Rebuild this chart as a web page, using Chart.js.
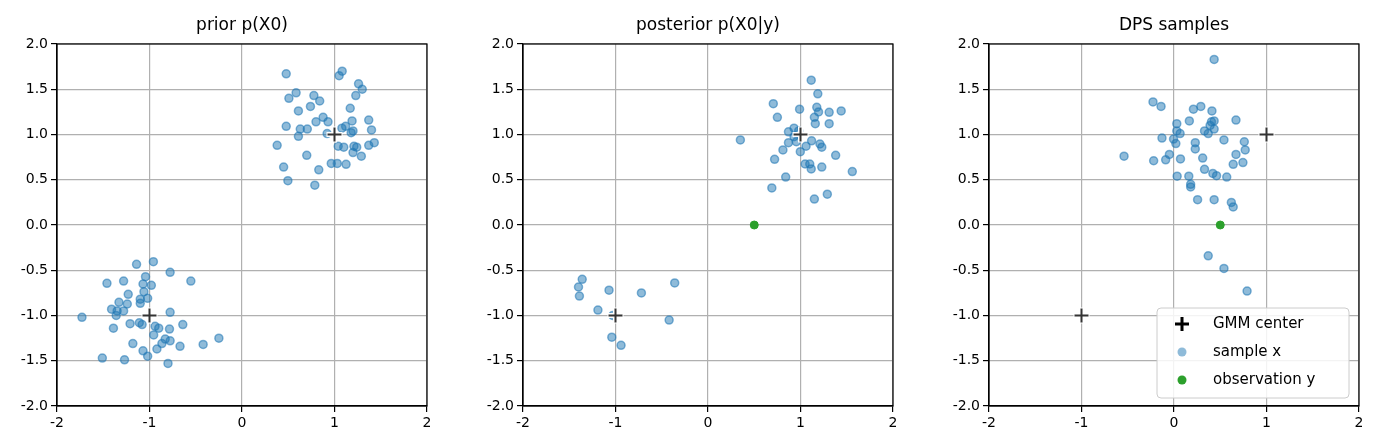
<!DOCTYPE html>
<html><head><meta charset="utf-8">
<script src="https://cdn.jsdelivr.net/npm/chart.js@4/dist/chart.umd.min.js"></script>
<style>body{margin:0;background:#fff;width:1380px;height:446px;position:relative;overflow:hidden}
.c{position:absolute;top:0;width:440px;height:446px}</style></head><body>
<div class="c" style="left:0"><canvas id="c1"></canvas></div>
<div class="c" style="left:466px"><canvas id="c2"></canvas></div>
<div class="c" style="left:932px"><canvas id="c3"></canvas></div>
<script>
const titles = ["prior p(X0)", "posterior p(X0|y)", "DPS samples"];
const xTicks = [-2, -1, 0, 1, 2];
const yTicks = [-2.0, -1.5, -1.0, -0.5, 0.0, 0.5, 1.0, 1.5, 2.0];
const centersX = [-1, 1];
const centersY = [-1, 1];
const obsX = [0.5];
const obsY = [0];
const priorX = [0.478,1.083,1.05,1.26,1.30,0.585,0.507,0.777,0.84,1.23,0.61,0.74,1.17,0.877,0.93,0.80,1.19,1.37,0.478,0.63,0.706,1.12,1.08,1.20,1.40,0.61,0.92,1.18,0.38,1.04,1.10,1.21,1.24,1.37,1.43,1.20,1.29,0.70,0.45,0.83,0.965,1.03,1.125,0.496,0.787,
 -1.14,-0.958,-0.777,-1.043,-1.46,-1.28,-0.553,-1.07,-0.98,-1.06,-1.23,-1.10,-1.02,-1.33,-1.24,-1.10,-1.41,-1.35,-1.28,-1.36,-1.73,-0.777,-1.21,-1.11,-1.08,-0.94,-0.90,-0.784,-0.64,-1.39,-0.955,-0.83,-0.777,-0.866,-1.18,-0.67,-0.42,-0.25,-0.92,-1.07,-1.02,-1.51,-1.27,-0.80];
const priorY = [1.67,1.70,1.65,1.56,1.50,1.46,1.40,1.43,1.37,1.43,1.26,1.31,1.29,1.19,1.14,1.14,1.15,1.16,1.09,1.06,1.06,1.09,1.07,1.04,1.05,0.98,1.01,1.02,0.88,0.87,0.86,0.87,0.86,0.88,0.91,0.80,0.76,0.77,0.64,0.61,0.68,0.68,0.67,0.49,0.44,
 -0.434,-0.405,-0.523,-0.571,-0.645,-0.619,-0.619,-0.652,-0.667,-0.737,-0.766,-0.82,-0.81,-0.854,-0.873,-0.866,-0.93,-0.95,-0.95,-1.0,-1.02,-0.965,-1.09,-1.08,-1.10,-1.12,-1.14,-1.15,-1.10,-1.14,-1.215,-1.26,-1.28,-1.31,-1.31,-1.34,-1.32,-1.25,-1.37,-1.39,-1.45,-1.47,-1.49,-1.53];
const postX = [1.116,1.187,0.706,1.176,1.195,1.31,1.44,0.99,0.75,1.15,1.16,1.31,0.93,0.87,0.98,0.35,0.93,0.87,0.955,1.12,1.21,1.23,1.06,0.81,0.998,1.38,0.72,1.05,1.10,1.116,1.23,1.56,0.84,0.69,1.15,1.29,
 -1.36,-1.40,-1.39,-1.07,-0.72,-0.36,-1.19,-1.03,-1.04,-0.94,-0.42];
const postY = [1.60,1.45,1.34,1.30,1.25,1.245,1.26,1.28,1.19,1.19,1.12,1.12,1.07,1.03,1.04,0.94,0.976,0.91,0.92,0.93,0.895,0.86,0.87,0.83,0.81,0.77,0.726,0.674,0.674,0.62,0.64,0.59,0.53,0.41,0.287,0.34,
 -0.60,-0.685,-0.785,-0.72,-0.75,-0.64,-0.94,-1.0,-1.24,-1.33,-1.05];
const dpsX = [0.434,-0.227,-0.14,0.29,0.21,0.41,0.166,0.67,0.03,0.405,0.434,0.39,0.33,0.37,0.434,0.03,0.066,-0.13,-0.005,0.02,0.23,0.54,0.76,0.77,0.23,-0.05,0.67,0.07,0.31,-0.22,-0.09,0.745,0.64,0.33,0.42,0.46,0.57,0.034,0.16,0.18,0.18,0.255,0.434,0.62,0.64,-0.54,0.37,0.54,0.79];
const dpsY = [1.83,1.36,1.31,1.31,1.28,1.26,1.15,1.16,1.12,1.14,1.15,1.10,1.04,1.01,1.06,1.04,1.01,0.96,0.95,0.90,0.91,0.94,0.92,0.83,0.84,0.78,0.78,0.73,0.74,0.71,0.72,0.69,0.67,0.615,0.57,0.545,0.53,0.54,0.54,0.45,0.42,0.28,0.28,0.25,0.20,0.76,-0.34,-0.48,-0.73];

const BLUE = 'rgba(31,119,180,0.5)';
const GREEN = '#2ca02c';
const font = {family: 'DejaVu Sans', size: 14};
const pts = (xs, ys) => xs.map((x, i) => ({x, y: ys[i]}));

const titlePlugin = {id:'ttl', afterDraw(c){const ctx=c.ctx,a=c.chartArea;ctx.save();
  ctx.strokeStyle='#000';ctx.lineWidth=1.2;ctx.strokeRect(a.left,a.top,a.right-a.left,a.bottom-a.top);
  ctx.fillStyle='#000';ctx.font='17px DejaVu Sans';ctx.textAlign='center';ctx.textBaseline='alphabetic';ctx.fillText(c.options.plugins.ttl.text,(a.left+a.right)/2,a.top-14);ctx.restore();}};
const legendPlugin = {id:'lg', afterDraw(c){
  if(!c.options.plugins.lg.show) return;
  const ctx=c.ctx,a=c.chartArea;const w=192,h=90,x0=a.right-w-10,y0=a.bottom-h-8;
  ctx.save();ctx.fillStyle='rgba(255,255,255,0.85)';ctx.strokeStyle='#ccc';ctx.lineWidth=1;
  ctx.beginPath();ctx.roundRect(x0,y0,w,h,4);ctx.fill();ctx.stroke();
  ctx.font='15px DejaVu Sans';ctx.textBaseline='middle';ctx.fillStyle='#000';
  const items=[['GMM center'],['sample x'],['observation y']];
  items.forEach((it,i)=>{const y=y0+16+i*28,mx=x0+25;
    if(i===0){ctx.strokeStyle='#000';ctx.lineWidth=3;ctx.beginPath();ctx.moveTo(mx-7,y);ctx.lineTo(mx+7,y);ctx.moveTo(mx,y-7);ctx.lineTo(mx,y+7);ctx.stroke();}
    else{ctx.fillStyle=i===1?BLUE:GREEN;ctx.beginPath();ctx.arc(mx,y,4.5,0,Math.PI*2);ctx.fill();}
    ctx.fillStyle='#000';ctx.fillText(it[0],x0+56,y);});
  ctx.restore();}};

function make(id, title, sx, sy, obs, legend){
  const ds = [
    {data: pts(sx, sy), backgroundColor: BLUE, borderColor: 'rgba(31,119,180,0.55)', borderWidth: 1.5, pointRadius: 4, order: 3},
    {data: pts(centersX, centersY), pointStyle: 'cross', pointRadius: 8, borderColor: '#fff', borderWidth: 5, order: 2},
    {data: pts(centersX, centersY), pointStyle: 'cross', pointRadius: 7, borderColor: '#333', borderWidth: 2, order: 1},
  ];
  if (obs) ds.push({data: pts(obsX, obsY), backgroundColor: GREEN, borderColor: GREEN, pointRadius: 4, order: 0});
  const grid = {color: '#b0b0b0', lineWidth: 1.2, tickLength: 6, tickColor: '#000'};
  new Chart(document.getElementById(id), {
    type: 'scatter',
    data: {datasets: ds},
    options: {
      responsive: true, maintainAspectRatio: false, animation: false, devicePixelRatio: 1,
      layout: {padding: {top: 44, right: 2, left: 0, bottom: 0}},
      plugins: {legend: {display: false}, tooltip: {enabled: false}, ttl: {text: title}, lg: {show: legend}},
      scales: {
        x: {type: 'linear', min: -2, max: 2, afterBuildTicks: s => { s.ticks = xTicks.map(v => ({value: v})); },
            ticks: {font, color: '#000', callback: v => String(v)}, grid, border: {color: '#000', width: 1.2},
            afterFit: s => { s.height = 40; }},
        y: {type: 'linear', min: -2, max: 2, afterBuildTicks: s => { s.ticks = yTicks.map(v => ({value: v})); },
            ticks: {font, color: '#000', callback: v => v.toFixed(1)}, grid, border: {color: '#000', width: 1.2},
            afterFit: s => { s.width = 57; }}
      }
    },
    plugins: [titlePlugin, legendPlugin]
  });
}
make('c1', titles[0], priorX, priorY, false, false);
make('c2', titles[1], postX, postY, true, false);
make('c3', titles[2], dpsX, dpsY, true, true);
</script></body></html>
